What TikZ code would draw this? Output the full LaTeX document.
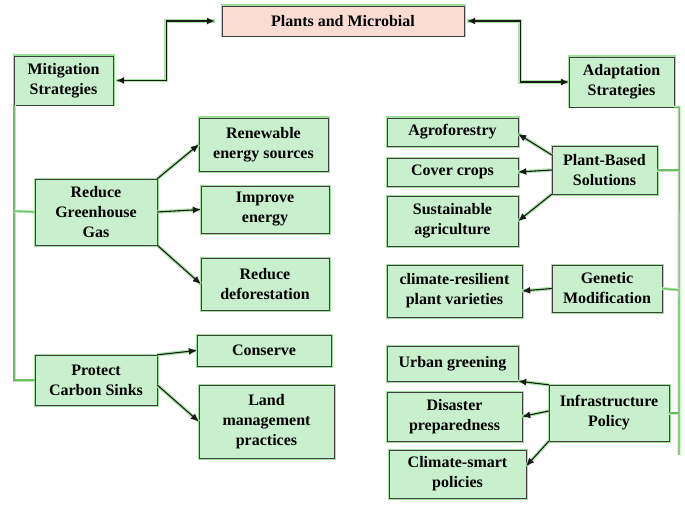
\documentclass[tikz,border=0pt]{standalone}
\usepackage{fontspec}
\setmainfont{Liberation Serif}
\usetikzlibrary{arrows.meta,positioning}
\definecolor{boxgreen}{RGB}{200,240,205}
\definecolor{boxpink}{RGB}{250,220,210}
\definecolor{glow}{RGB}{120,210,110}
\tikzset{
  box/.style={draw=black!75, fill=boxgreen, align=center, inner sep=1pt,
    font=\fontsize{16}{20}\selectfont\bfseries,
    preaction={draw=glow!70, line width=3pt}},
  link/.style={-{Latex[length=8pt,width=7pt]}, line width=1.1pt, black!90,
    preaction={draw=glow!60, line width=3.5pt, -}},
  trunk/.style={draw=glow!90!black, line width=1.2pt,
    preaction={draw=glow!50, line width=3pt}}
}
\begin{document}
\begin{tikzpicture}[x=1pt,y=-1pt]
\useasboundingbox (0,0) rectangle (685,508);
% top
\node[box, fill=boxpink, minimum width=242pt, minimum height=30pt] (plants) at (343,21) {Plants and Microbial};
\node[box, minimum width=99pt, minimum height=49pt] (mit) at (63.5,80.5) {Mitigation\\Strategies};
\node[box, minimum width=105pt, minimum height=50pt] (ada) at (621.5,82) {Adaptation\\Strategies};

% mitigation side
\node[box, minimum width=122pt, minimum height=66pt] (ghg) at (96,212) {Reduce\\Greenhouse\\Gas};
\node[box, minimum width=129pt, minimum height=53pt] (renew) at (263.5,144.5) {Renewable\\energy sources};
\node[box, minimum width=128pt, minimum height=47pt] (improve) at (265,209.5) {Improve\\energy};
\node[box, minimum width=128pt, minimum height=52pt] (defor) at (265,284) {Reduce\\deforestation};
\node[box, minimum width=122pt, minimum height=50pt] (sinks) at (96,380) {Protect\\Carbon Sinks};
\node[box, minimum width=134pt, minimum height=31pt] (conserve) at (264,350.5) {Conserve};
\node[box, minimum width=135pt, minimum height=73pt] (land) at (266.5,421.5) {Land\\management\\practices};

% adaptation side
\node[box, minimum width=105pt, minimum height=48pt] (plantb) at (604.5,170) {Plant-Based\\Solutions};
\node[box, minimum width=131pt, minimum height=28pt] (agro) at (452.5,132) {Agroforestry};
\node[box, minimum width=131pt, minimum height=28pt] (cover) at (452.5,172) {Cover crops};
\node[box, minimum width=131pt, minimum height=50pt] (sust) at (452.5,221) {Sustainable\\agriculture};
\node[box, minimum width=110pt, minimum height=47pt] (genetic) at (607,288.5) {Genetic\\Modification};
\node[box, minimum width=135pt, minimum height=52pt] (resil) at (454.5,291) {climate-resilient\\plant varieties};
\node[box, minimum width=120pt, minimum height=56pt] (infra) at (609,413) {Infrastructure\\Policy};
\node[box, minimum width=131pt, minimum height=35pt] (urban) at (452.5,363.5) {Urban greening};
\node[box, minimum width=135pt, minimum height=49pt] (disaster) at (454.5,416.5) {Disaster\\preparedness};
\node[box, minimum width=137pt, minimum height=48pt] (smart) at (457.5,474) {Climate-smart\\policies};

% links to the top node
\draw[link, {Latex[length=8pt,width=7pt]}-{Latex[length=8pt,width=7pt]}] ([xshift=3pt]mit.east) -- ++(50,0) |- ([xshift=-7pt]plants.west);
\draw[link, {Latex[length=8pt,width=7pt]}-{Latex[length=8pt,width=7pt]}] ([xshift=3pt]plants.east) -- ++(53,0) |- (ada.west);

% trunks
\coordinate (lt) at (14,105);
\draw[trunk] (lt) |- (sinks.west);
\draw[trunk] (14,211) -- (ghg.west);
\draw[trunk] (ada.south east) -- ++(5,0) -- (679,455);
\draw[trunk] (plantb.east) -- (679,170);
\draw[trunk] (genetic.east) -- (679,290);
\draw[trunk] (infra.east) -- (679,413);

% arrows
\draw[link] (ghg.north east) -- (renew.west);
\draw[link] (ghg.east) -- (improve.west);
\draw[link] (ghg.south east) -- (defor.west);
\draw[link] (sinks.north east) -- (conserve.west);
\draw[link] ([yshift=-5pt]sinks.east) -- (land.west);
\draw[link] ([yshift=15pt]plantb.west) -- ([yshift=-2pt]agro.east);
\draw[link] (plantb.west) -- (cover.east);
\draw[link] (plantb.south west) -- (sust.east);
\draw[link] (genetic.west) -- (resil.east);
\draw[link] (infra.north west) -- (urban.south east);
\draw[link] ([yshift=2pt]infra.west) -- (disaster.east);
\draw[link] (infra.south west) -- ([yshift=8pt]smart.east);
\end{tikzpicture}
\end{document}
